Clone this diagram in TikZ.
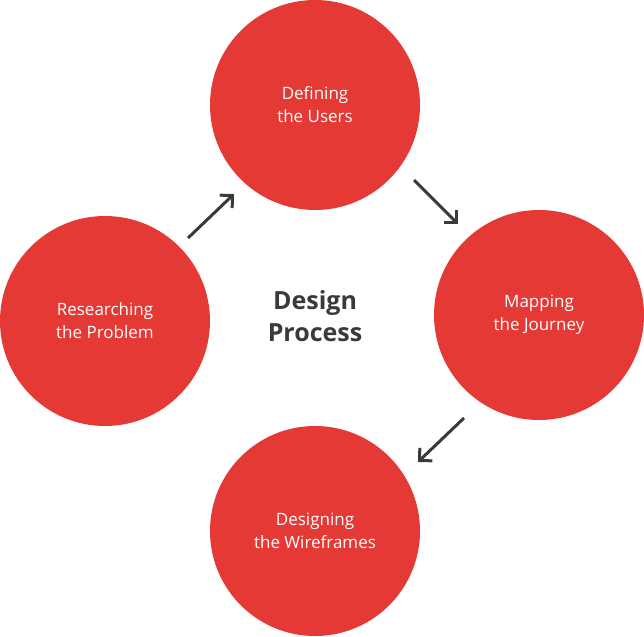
\documentclass[tikz,border=0pt]{standalone}
\usepackage{fontspec}
\setmainfont{Open Sans}
\usetikzlibrary{arrows.meta}
\definecolor{cred}{HTML}{E53935}
\definecolor{cgray}{HTML}{3A3A3A}
\begin{document}
\begin{tikzpicture}[x=1pt,y=-1pt,
  stage/.style={circle,fill=cred,minimum size=210pt,inner sep=0pt,text=white,align=center,font=\fontsize{17}{23}\selectfont},
  flow/.style={draw=cgray,line width=3pt,-{Straight Barb[length=9pt,width=18pt,line width=3pt]}}]
\useasboundingbox (0,0) rectangle (644,636);
\node[stage] (top) at (315,105) {Defining\\the Users};
\node[stage] (left) at (105,321) {Researching\\the Problem};
\node[stage] (right) at (539,315) {Mapping\\the Journey};
\node[stage] (bot) at (315,531) {Designing\\the Wireframes};
\node[text=cgray,align=center,font=\bfseries\fontsize{25}{32}\selectfont] (title) at (315,316) {Design\\Process};
\coordinate (a1) at (188,238); \coordinate (a2) at (234,194);
\coordinate (b1) at (414,180); \coordinate (b2) at (458,224);
\coordinate (c1) at (464,418); \coordinate (c2) at (418,462);
\draw[flow] (a1) -- (a2);
\draw[flow] (b1) -- (b2);
\draw[flow] (c1) -- (c2);
\end{tikzpicture}
\end{document}
